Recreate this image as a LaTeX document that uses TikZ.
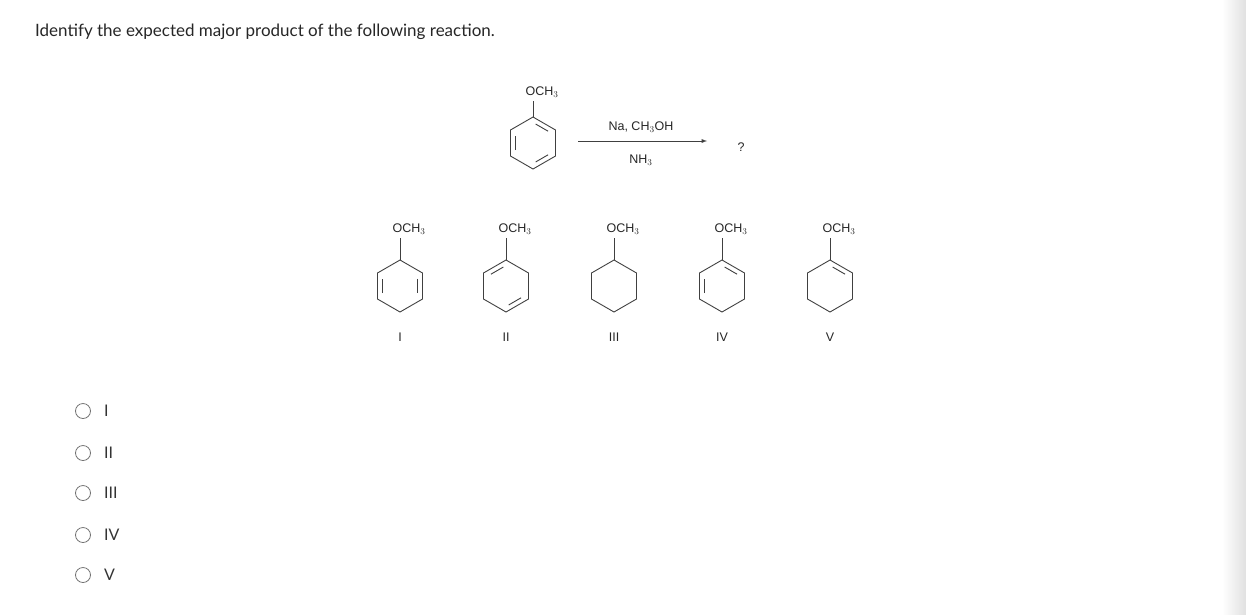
\documentclass[tikz,border=0pt]{standalone}
\usepackage{fontspec}
\setmainfont{Liberation Sans}
\newfontfamily\titlefont{Lato}
\usetikzlibrary{calc}
\tikzset{bond/.style={line width=0.9pt,draw=black!75},
  chem/.style={font=\fontsize{12.5}{14}\selectfont,text=black!85,inner sep=0pt},
  radio/.style={circle,draw=black!55,line width=0.8pt,minimum size=15pt,inner sep=0pt},
  opt/.style={font=\titlefont\fontsize{16}{18}\selectfont,text=black!80,anchor=west,inner sep=0pt}}
\newcommand\myring[4]{% prefix, x, y(px), double edges
  \foreach \k in {0,...,5}{\coordinate (#1v\k) at ($(#2,-#3)+({90-60*\k}:26)$);
    \coordinate (#1i\k) at ($(#2,-#3)+({90-60*\k}:20.5)$);}
  \draw[bond] (#1v0)--(#1v1)--(#1v2)--(#1v3)--(#1v4)--(#1v5)--cycle;
  \foreach \e in {#4}{\pgfmathtruncatemacro\f{mod(\e+1,6)}
    \draw[bond] ($(#1i\e)!0.15!(#1i\f)$)--($(#1i\e)!0.85!(#1i\f)$);}
}
\newcommand\myprod[4]{% prefix, x, edges, label
  \myring{#1}{#2}{286}{#3}
  \node[chem] (#1o) at (#2+9,-229) {OCH$_3$};
  \draw[bond] (#1v0) -- (#2,-238);
  \node[chem] (#1l) at (#2,-337) {#4};
}
\newcommand\myprodsat[3]{% saturated
  \foreach \k in {0,...,5}{\coordinate (#1v\k) at ($(#2,-286)+({90-60*\k}:26)$);}
  \draw[bond] (#1v0)--(#1v1)--(#1v2)--(#1v3)--(#1v4)--(#1v5)--cycle;
  \node[chem] (#1o) at (#2+9,-229) {OCH$_3$};
  \draw[bond] (#1v0) -- (#2,-238);
  \node[chem] (#1l) at (#2,-337) {#3};
}
\begin{document}
\begin{tikzpicture}[x=1pt,y=1pt]
\useasboundingbox (0,0) rectangle (1246,-614);
\shade[left color=white,right color=black!12] (1222,0) rectangle (1246,-614);
\node[font=\titlefont\fontsize{17}{20}\selectfont,text=black!85,anchor=west,inner sep=0pt] (title) at (35,-32) {Identify the expected major product of the following reaction.};
% reactant
\myring{r}{533}{143}{0,2,4}
\node[chem] (ro) at (542,-92) {OCH$_3$};
\draw[bond] (rv0) -- (533,-101);
\coordinate (as) at (578,-141); \coordinate (ae) at (707,-141);
\draw[bond,-latex] (as) -- (ae);
\node[chem] (c1) at (641,-127) {Na, CH$_3$OH};
\node[chem] (c2) at (641,-160) {NH$_3$};
\node[chem] (q) at (741,-147) {?};
% products
\myprod{a}{400}{1,4}{I}
\myprod{b}{506}{5,2}{II}
\myprodsat{c}{614}{III}
\myprod{d}{722}{0,4}{IV}
\myprod{e}{830}{0}{V}
% options
\foreach \yy/\lab [count=\n] in {411/I,453/II,493/III,535/IV,575/V}{
  \node[radio] (rb\n) at (83,-\yy) {};
  \node[opt] (ol\n) at (104,-\yy) {\lab};
}
\end{tikzpicture}
\end{document}
